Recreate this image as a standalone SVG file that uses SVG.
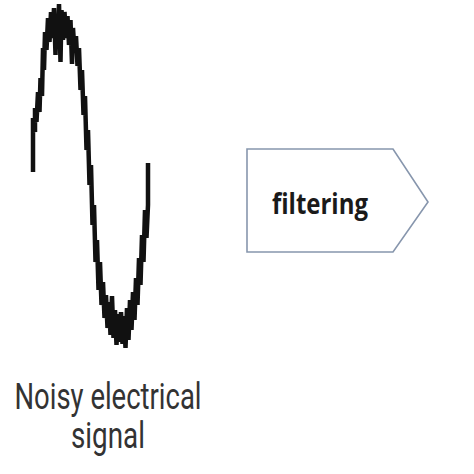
<svg xmlns="http://www.w3.org/2000/svg" width="474" height="474" viewBox="0 0 474 474">
<style>
.wave{fill:none;stroke:#111;stroke-width:4.5;stroke-linejoin:miter;stroke-miterlimit:4}
.box{fill:#fff;stroke:#8796ad;stroke-width:1.6}
.lbl{font-family:"Open Sans","Liberation Sans",sans-serif;font-weight:bold;font-size:28px;fill:#1a1a1a}
.cap{font-family:Roboto,"Liberation Sans",sans-serif;font-size:37px;fill:#333}
</style>
<rect width="474" height="474" fill="#fff"/>
<g id="signal">
<polyline class="wave" points="33,172 33,118 35,132 35,108 36.5,122 38,92 39.5,112 40.5,78 42,96 43,48 44,70 45,32 46.5,50 48,18 49.5,42 51,12 52.5,38 54,8 55.5,55 56.5,14 58,36 59,4 60.5,62 61.5,10 63,40 64.5,12 66,38 67.5,16 69,45 70.5,20 72,64 73,28 74.5,52 76,36 77.5,66 79,48 80.5,90 82,70 83.5,115 85,96 86.5,150 88,130 89.5,185 91,165 92.5,225 94,205 95.5,262 97,240 98.5,290 100,262 101.5,305 103,282 104.5,318 106,295 107.5,328 109,302 110.5,335 112,296 113.5,338 115,310 116.5,345 118,314 119.5,342 121,312 122.5,344 124,316 125.5,348 127,308 128.5,340 130,300 131.5,330 133,292 134.5,320 136,278 137.5,305 139,258 140.5,285 142,235 143.5,262 145,210 146.5,238 148,205 148,163"/>
<text class="cap" x="108" y="409" text-anchor="middle" textLength="187" lengthAdjust="spacingAndGlyphs">Noisy electrical</text>
<text class="cap" x="108" y="448" text-anchor="middle" textLength="74" lengthAdjust="spacingAndGlyphs">signal</text>
</g>
<g id="filtering">
<polygon class="box" points="247,149 393,149 428,202 393,252 247,252"/>
<text class="lbl" x="272" y="214" textLength="96" lengthAdjust="spacingAndGlyphs">filtering</text>
</g>
</svg>
